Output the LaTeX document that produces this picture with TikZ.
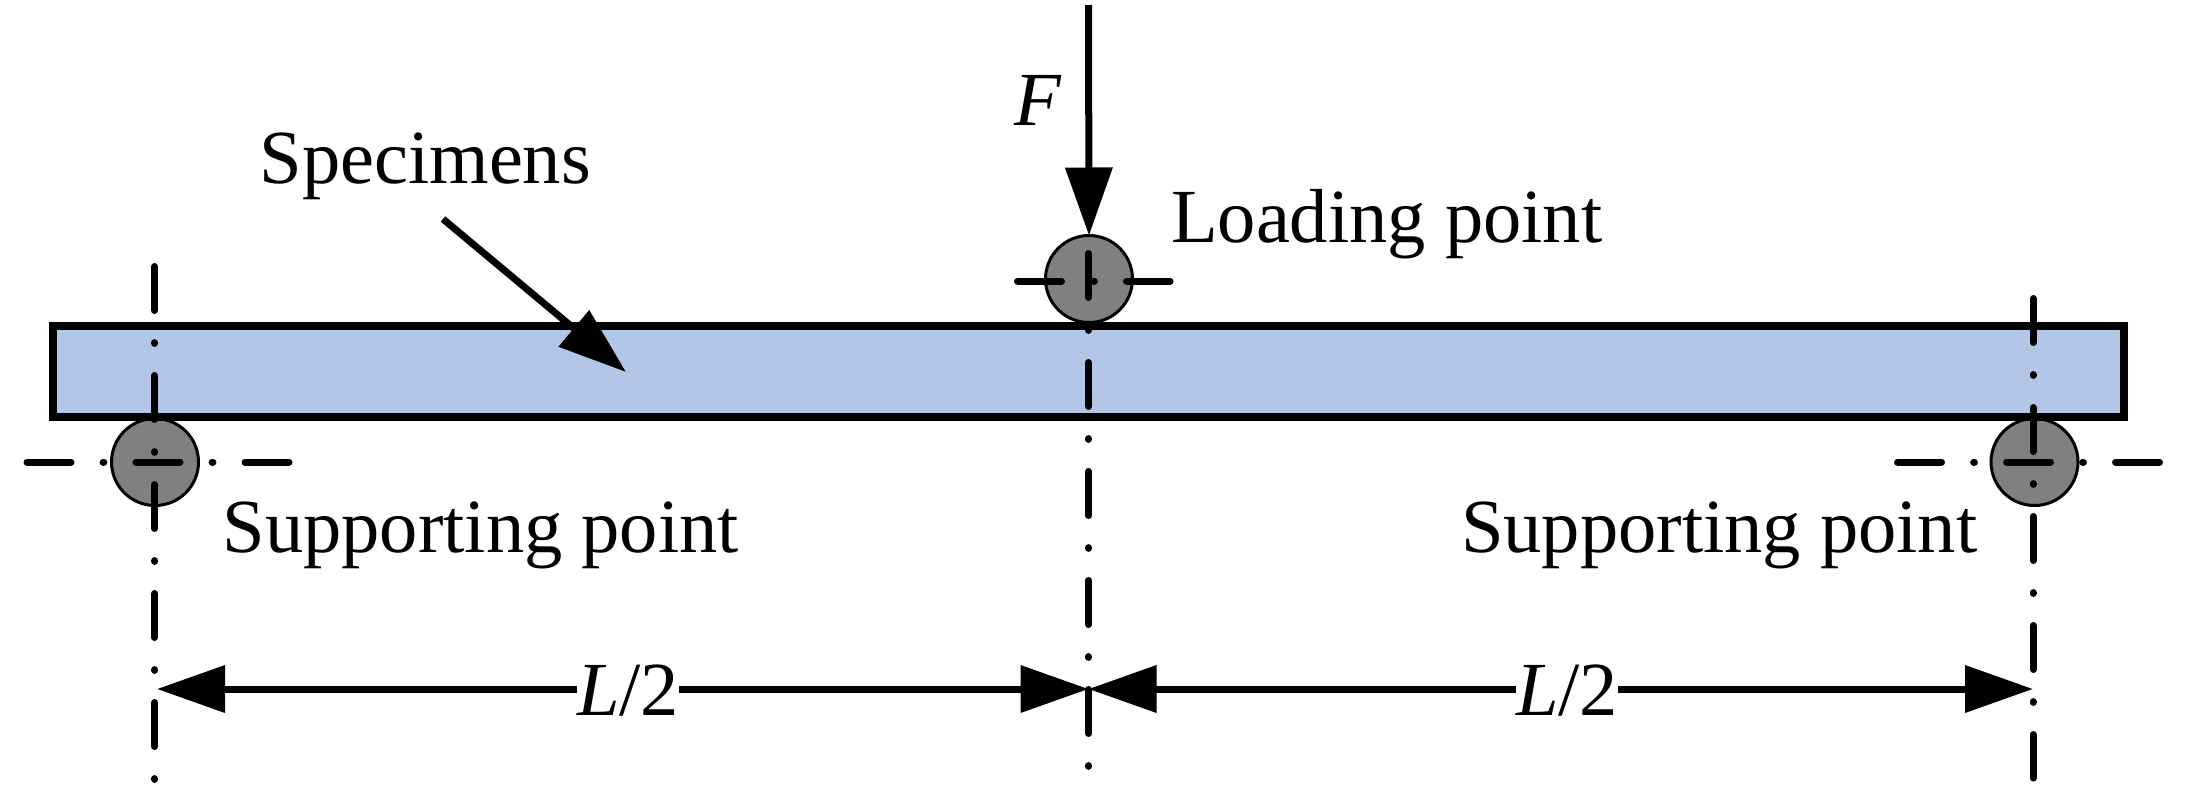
\documentclass[tikz,border=0pt]{standalone}
\usepackage{fontspec}
\setmainfont{Liberation Serif}
\usetikzlibrary{arrows.meta}
\definecolor{beamblue}{HTML}{B4C6E7}
\definecolor{rollgray}{HTML}{808080}
\tikzset{
  label text/.style={inner sep=0pt,outer sep=0pt,anchor=base west,font=\fontsize{76.5}{80}\selectfont},
  roller/.style={circle,draw=black,fill=rollgray,line width=3pt,minimum size=87pt,inner sep=0pt,outer sep=0pt},
  centerline/.style={line width=7pt,line cap=round,dash pattern=on 44pt off 32.1pt on 0.8pt off 32.1pt},
  force/.style={line width=7pt,-{Triangle[length=68pt,width=46pt]}},
}
\begin{document}
\begin{tikzpicture}[x=1pt,y=-1pt]
\useasboundingbox (0,0) rectangle (2190,804);
% rollers first: the beam hides their touching edge
\node[roller] (rl) at (155,462) {};
\node[roller] (rm) at (1089,279) {};
\node[roller] (rr) at (2034.5,462) {};
\node[draw=black,fill=beamblue,line width=8pt,minimum width=2071pt,minimum height=90.5pt,inner sep=0pt,outer sep=0pt] (beam) at (1088.5,371.25) {};
% centre lines
\coordinate (lt) at (154.6,266.5);
\coordinate (lb) at (154.6,782);
\coordinate (mt) at (1088.5,253.5);
\coordinate (mb) at (1088.5,768);
\coordinate (rt) at (2033,298.5);
\coordinate (rb) at (2033,778);
\coordinate (lh1) at (27,462);
\coordinate (lh2) at (289,462);
\coordinate (mh1) at (1017.5,281);
\coordinate (mh2) at (1170,281);
\coordinate (rh1) at (1897.5,462);
\coordinate (rh2) at (2161,462);
\draw[centerline] (lt) -- (lb);
\draw[centerline] (mt) -- (mb);
\draw[centerline] (rt) -- (rb);
\draw[centerline] (lh1) -- (lh2);
\draw[centerline] (mh1) -- (mh2);
\draw[centerline] (rh1) -- (rh2);
% labels
\node[label text] (spec) at (259.5,183) {Specimens};
\node[label text] (load) at (1171,242) {Loading point};
\node[label text] (supl) at (222.5,552) {Supporting point};
\node[label text] (supr) at (1461,552) {Supporting point};
\node[label text] (ftxt) at (1014,125) {\textit{F}};
\node[label text] (dl) at (577,715) {\textit{L}/2};
\node[label text] (dr) at (1516,715) {\textit{L}/2};
% force arrows
\coordinate (ftop) at (1088.5,5);
\draw[force] (ftop) -- (rm.north);
\coordinate (sstart) at (443,219);
\coordinate (stip) at (626,372);
\draw[force] (sstart) -- (stip);
% dimension arrows
\coordinate (al) at (157,689);
\coordinate (am) at (1088.5,689);
\coordinate (ar) at (2033,689);
\draw[force] (dl.west |- al) -- (al);
\draw[force] (dl.east |- al) -- (am);
\draw[force] (dr.west |- al) -- (am);
\draw[force] (dr.east |- al) -- (ar);
\end{tikzpicture}
\end{document}
